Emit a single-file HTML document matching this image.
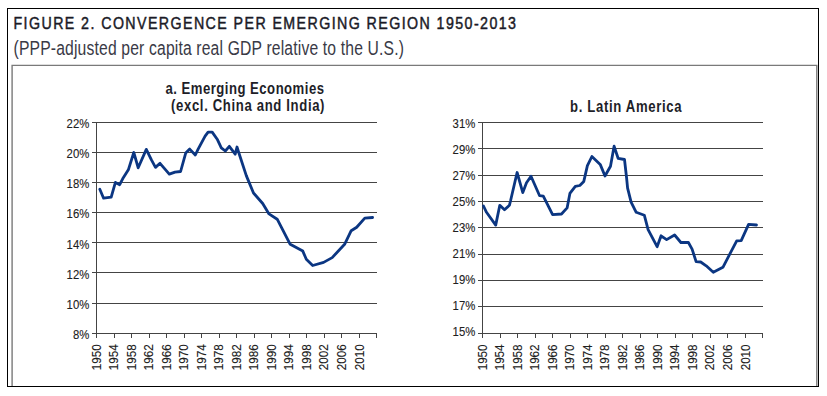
<!DOCTYPE html>
<html><head><meta charset="utf-8">
<style>
html,body{margin:0;padding:0;background:#fff;}
body{width:827px;height:396px;overflow:hidden;}
svg{display:block;}
text{font-family:"Liberation Sans",sans-serif;}
.yl{font-size:12.2px;fill:#202020;stroke:#202020;stroke-width:0.1px;}
.xl{font-size:11.2px;fill:#202020;stroke:#202020;stroke-width:0.1px;}
.ct{font-size:16px;font-weight:bold;fill:#1e1e28;}
</style></head><body>
<svg width="827" height="396" viewBox="0 0 827 396">
<rect x="0" y="0" width="827" height="396" fill="#fff"/>
<path d="M12.1,386 V65.4 H816.8 V386" fill="none" stroke="#7a7a7a" stroke-width="1.4"/>
<rect x="7.5" y="8.5" width="811" height="378" fill="none" stroke="#000" stroke-width="1"/>
<text transform="translate(13.5,28.6) scale(0.9,1)" x="0" y="0" font-size="15.8" fill="#1a1a26" stroke="#1a1a26" stroke-width="0.45" textLength="558.3" lengthAdjust="spacing">FIGURE 2. CONVERGENCE PER EMERGING REGION 1950-2013</text>
<text transform="translate(13.5,55.2) scale(0.77,1)" font-size="20.4" fill="#3a3a46" textLength="507.1" lengthAdjust="spacing">(PPP-adjusted per capita real GDP relative to the U.S.)</text>
<text transform="translate(165.5,94.4) scale(0.82,1)" class="ct" textLength="193.3" lengthAdjust="spacing">a. Emerging Economies</text>
<text transform="translate(171,111.2) scale(0.82,1)" class="ct" textLength="187.2" lengthAdjust="spacing">(excl. China and India)</text>
<text transform="translate(570,111.8) scale(0.82,1)" class="ct" textLength="136.0" lengthAdjust="spacing">b. Latin America</text>
<line x1="92.0" y1="122.3" x2="377" y2="122.3" stroke="#444444" stroke-width="1" shape-rendering="crispEdges"/>
<text transform="translate(89.3,128.1) scale(0.93,1.02)" text-anchor="end" class="yl">22%</text>
<line x1="92.0" y1="152.43" x2="377" y2="152.43" stroke="#444444" stroke-width="1" shape-rendering="crispEdges"/>
<text transform="translate(89.3,158.23) scale(0.93,1.02)" text-anchor="end" class="yl">20%</text>
<line x1="92.0" y1="182.56" x2="377" y2="182.56" stroke="#444444" stroke-width="1" shape-rendering="crispEdges"/>
<text transform="translate(89.3,188.35999999999999) scale(0.93,1.02)" text-anchor="end" class="yl">18%</text>
<line x1="92.0" y1="212.69" x2="377" y2="212.69" stroke="#444444" stroke-width="1" shape-rendering="crispEdges"/>
<text transform="translate(89.3,218.49) scale(0.93,1.02)" text-anchor="end" class="yl">16%</text>
<line x1="92.0" y1="242.82" x2="377" y2="242.82" stroke="#444444" stroke-width="1" shape-rendering="crispEdges"/>
<text transform="translate(89.3,248.62) scale(0.93,1.02)" text-anchor="end" class="yl">14%</text>
<line x1="92.0" y1="272.95" x2="377" y2="272.95" stroke="#444444" stroke-width="1" shape-rendering="crispEdges"/>
<text transform="translate(89.3,278.75) scale(0.93,1.02)" text-anchor="end" class="yl">12%</text>
<line x1="92.0" y1="303.08" x2="377" y2="303.08" stroke="#444444" stroke-width="1" shape-rendering="crispEdges"/>
<text transform="translate(89.3,308.88) scale(0.93,1.02)" text-anchor="end" class="yl">10%</text>
<line x1="92.0" y1="333.21" x2="377" y2="333.21" stroke="#444444" stroke-width="1" shape-rendering="crispEdges"/>
<text transform="translate(89.3,339.01) scale(0.93,1.02)" text-anchor="end" class="yl">8%</text>
<line x1="96.5" y1="122.3" x2="96.5" y2="333.21" stroke="#444444" stroke-width="1" shape-rendering="crispEdges"/>
<line x1="96.5" y1="333.21" x2="96.5" y2="337.71" stroke="#444444" stroke-width="1" shape-rendering="crispEdges"/>
<text transform="translate(100.7,370.21) rotate(-90) scale(1.04,1.1)" class="xl">1950</text>
<line x1="114.5" y1="333.21" x2="114.5" y2="337.71" stroke="#444444" stroke-width="1" shape-rendering="crispEdges"/>
<text transform="translate(118.22,370.21) rotate(-90) scale(1.04,1.1)" class="xl">1954</text>
<line x1="131.5" y1="333.21" x2="131.5" y2="337.71" stroke="#444444" stroke-width="1" shape-rendering="crispEdges"/>
<text transform="translate(135.73999999999998,370.21) rotate(-90) scale(1.04,1.1)" class="xl">1958</text>
<line x1="149.5" y1="333.21" x2="149.5" y2="337.71" stroke="#444444" stroke-width="1" shape-rendering="crispEdges"/>
<text transform="translate(153.26,370.21) rotate(-90) scale(1.04,1.1)" class="xl">1962</text>
<line x1="166.5" y1="333.21" x2="166.5" y2="337.71" stroke="#444444" stroke-width="1" shape-rendering="crispEdges"/>
<text transform="translate(170.77999999999997,370.21) rotate(-90) scale(1.04,1.1)" class="xl">1966</text>
<line x1="184.5" y1="333.21" x2="184.5" y2="337.71" stroke="#444444" stroke-width="1" shape-rendering="crispEdges"/>
<text transform="translate(188.29999999999998,370.21) rotate(-90) scale(1.04,1.1)" class="xl">1970</text>
<line x1="201.5" y1="333.21" x2="201.5" y2="337.71" stroke="#444444" stroke-width="1" shape-rendering="crispEdges"/>
<text transform="translate(205.82,370.21) rotate(-90) scale(1.04,1.1)" class="xl">1974</text>
<line x1="219.5" y1="333.21" x2="219.5" y2="337.71" stroke="#444444" stroke-width="1" shape-rendering="crispEdges"/>
<text transform="translate(223.33999999999997,370.21) rotate(-90) scale(1.04,1.1)" class="xl">1978</text>
<line x1="236.5" y1="333.21" x2="236.5" y2="337.71" stroke="#444444" stroke-width="1" shape-rendering="crispEdges"/>
<text transform="translate(240.85999999999999,370.21) rotate(-90) scale(1.04,1.1)" class="xl">1982</text>
<line x1="254.5" y1="333.21" x2="254.5" y2="337.71" stroke="#444444" stroke-width="1" shape-rendering="crispEdges"/>
<text transform="translate(258.38,370.21) rotate(-90) scale(1.04,1.1)" class="xl">1986</text>
<line x1="271.5" y1="333.21" x2="271.5" y2="337.71" stroke="#444444" stroke-width="1" shape-rendering="crispEdges"/>
<text transform="translate(275.9,370.21) rotate(-90) scale(1.04,1.1)" class="xl">1990</text>
<line x1="289.5" y1="333.21" x2="289.5" y2="337.71" stroke="#444444" stroke-width="1" shape-rendering="crispEdges"/>
<text transform="translate(293.42,370.21) rotate(-90) scale(1.04,1.1)" class="xl">1994</text>
<line x1="306.5" y1="333.21" x2="306.5" y2="337.71" stroke="#444444" stroke-width="1" shape-rendering="crispEdges"/>
<text transform="translate(310.94,370.21) rotate(-90) scale(1.04,1.1)" class="xl">1998</text>
<line x1="324.5" y1="333.21" x2="324.5" y2="337.71" stroke="#444444" stroke-width="1" shape-rendering="crispEdges"/>
<text transform="translate(328.46,370.21) rotate(-90) scale(1.04,1.1)" class="xl">2002</text>
<line x1="341.5" y1="333.21" x2="341.5" y2="337.71" stroke="#444444" stroke-width="1" shape-rendering="crispEdges"/>
<text transform="translate(345.97999999999996,370.21) rotate(-90) scale(1.04,1.1)" class="xl">2006</text>
<line x1="359.5" y1="333.21" x2="359.5" y2="337.71" stroke="#444444" stroke-width="1" shape-rendering="crispEdges"/>
<text transform="translate(363.5,370.21) rotate(-90) scale(1.04,1.1)" class="xl">2010</text>
<line x1="376.5" y1="333.21" x2="376.5" y2="337.71" stroke="#444444" stroke-width="1" shape-rendering="crispEdges"/>
<line x1="478.0" y1="122.3" x2="763" y2="122.3" stroke="#444444" stroke-width="1" shape-rendering="crispEdges"/>
<text transform="translate(475.3,128.1) scale(0.93,1.02)" text-anchor="end" class="yl">31%</text>
<line x1="478.0" y1="148.68" x2="763" y2="148.68" stroke="#444444" stroke-width="1" shape-rendering="crispEdges"/>
<text transform="translate(475.3,154.04) scale(0.93,1.02)" text-anchor="end" class="yl">29%</text>
<line x1="478.0" y1="175.06" x2="763" y2="175.06" stroke="#444444" stroke-width="1" shape-rendering="crispEdges"/>
<text transform="translate(475.3,179.98) scale(0.93,1.02)" text-anchor="end" class="yl">27%</text>
<line x1="478.0" y1="201.44" x2="763" y2="201.44" stroke="#444444" stroke-width="1" shape-rendering="crispEdges"/>
<text transform="translate(475.3,205.92000000000002) scale(0.93,1.02)" text-anchor="end" class="yl">25%</text>
<line x1="478.0" y1="227.82" x2="763" y2="227.82" stroke="#444444" stroke-width="1" shape-rendering="crispEdges"/>
<text transform="translate(475.3,231.86) scale(0.93,1.02)" text-anchor="end" class="yl">23%</text>
<line x1="478.0" y1="254.2" x2="763" y2="254.2" stroke="#444444" stroke-width="1" shape-rendering="crispEdges"/>
<text transform="translate(475.3,257.8) scale(0.93,1.02)" text-anchor="end" class="yl">21%</text>
<line x1="478.0" y1="280.58" x2="763" y2="280.58" stroke="#444444" stroke-width="1" shape-rendering="crispEdges"/>
<text transform="translate(475.3,283.74) scale(0.93,1.02)" text-anchor="end" class="yl">19%</text>
<line x1="478.0" y1="306.96" x2="763" y2="306.96" stroke="#444444" stroke-width="1" shape-rendering="crispEdges"/>
<text transform="translate(475.3,309.68) scale(0.93,1.02)" text-anchor="end" class="yl">17%</text>
<line x1="478.0" y1="333.34" x2="763" y2="333.34" stroke="#444444" stroke-width="1" shape-rendering="crispEdges"/>
<text transform="translate(475.3,335.62) scale(0.93,1.02)" text-anchor="end" class="yl">15%</text>
<line x1="482.5" y1="122.3" x2="482.5" y2="333.34" stroke="#444444" stroke-width="1" shape-rendering="crispEdges"/>
<line x1="482.5" y1="333.34" x2="482.5" y2="337.84" stroke="#444444" stroke-width="1" shape-rendering="crispEdges"/>
<text transform="translate(486.7,370.34) rotate(-90) scale(1.04,1.1)" class="xl">1950</text>
<line x1="500.5" y1="333.34" x2="500.5" y2="337.84" stroke="#444444" stroke-width="1" shape-rendering="crispEdges"/>
<text transform="translate(504.21999999999997,370.34) rotate(-90) scale(1.04,1.1)" class="xl">1954</text>
<line x1="517.5" y1="333.34" x2="517.5" y2="337.84" stroke="#444444" stroke-width="1" shape-rendering="crispEdges"/>
<text transform="translate(521.74,370.34) rotate(-90) scale(1.04,1.1)" class="xl">1958</text>
<line x1="535.5" y1="333.34" x2="535.5" y2="337.84" stroke="#444444" stroke-width="1" shape-rendering="crispEdges"/>
<text transform="translate(539.26,370.34) rotate(-90) scale(1.04,1.1)" class="xl">1962</text>
<line x1="552.5" y1="333.34" x2="552.5" y2="337.84" stroke="#444444" stroke-width="1" shape-rendering="crispEdges"/>
<text transform="translate(556.7800000000001,370.34) rotate(-90) scale(1.04,1.1)" class="xl">1966</text>
<line x1="570.5" y1="333.34" x2="570.5" y2="337.84" stroke="#444444" stroke-width="1" shape-rendering="crispEdges"/>
<text transform="translate(574.3000000000001,370.34) rotate(-90) scale(1.04,1.1)" class="xl">1970</text>
<line x1="587.5" y1="333.34" x2="587.5" y2="337.84" stroke="#444444" stroke-width="1" shape-rendering="crispEdges"/>
<text transform="translate(591.82,370.34) rotate(-90) scale(1.04,1.1)" class="xl">1974</text>
<line x1="605.5" y1="333.34" x2="605.5" y2="337.84" stroke="#444444" stroke-width="1" shape-rendering="crispEdges"/>
<text transform="translate(609.34,370.34) rotate(-90) scale(1.04,1.1)" class="xl">1978</text>
<line x1="622.5" y1="333.34" x2="622.5" y2="337.84" stroke="#444444" stroke-width="1" shape-rendering="crispEdges"/>
<text transform="translate(626.86,370.34) rotate(-90) scale(1.04,1.1)" class="xl">1982</text>
<line x1="640.5" y1="333.34" x2="640.5" y2="337.84" stroke="#444444" stroke-width="1" shape-rendering="crispEdges"/>
<text transform="translate(644.3800000000001,370.34) rotate(-90) scale(1.04,1.1)" class="xl">1986</text>
<line x1="657.5" y1="333.34" x2="657.5" y2="337.84" stroke="#444444" stroke-width="1" shape-rendering="crispEdges"/>
<text transform="translate(661.9000000000001,370.34) rotate(-90) scale(1.04,1.1)" class="xl">1990</text>
<line x1="675.5" y1="333.34" x2="675.5" y2="337.84" stroke="#444444" stroke-width="1" shape-rendering="crispEdges"/>
<text transform="translate(679.4200000000001,370.34) rotate(-90) scale(1.04,1.1)" class="xl">1994</text>
<line x1="692.5" y1="333.34" x2="692.5" y2="337.84" stroke="#444444" stroke-width="1" shape-rendering="crispEdges"/>
<text transform="translate(696.94,370.34) rotate(-90) scale(1.04,1.1)" class="xl">1998</text>
<line x1="710.5" y1="333.34" x2="710.5" y2="337.84" stroke="#444444" stroke-width="1" shape-rendering="crispEdges"/>
<text transform="translate(714.46,370.34) rotate(-90) scale(1.04,1.1)" class="xl">2002</text>
<line x1="727.5" y1="333.34" x2="727.5" y2="337.84" stroke="#444444" stroke-width="1" shape-rendering="crispEdges"/>
<text transform="translate(731.98,370.34) rotate(-90) scale(1.04,1.1)" class="xl">2006</text>
<line x1="745.5" y1="333.34" x2="745.5" y2="337.84" stroke="#444444" stroke-width="1" shape-rendering="crispEdges"/>
<text transform="translate(749.5,370.34) rotate(-90) scale(1.04,1.1)" class="xl">2010</text>
<line x1="762.5" y1="333.34" x2="762.5" y2="337.84" stroke="#444444" stroke-width="1" shape-rendering="crispEdges"/>
<polyline points="99.8,189.3 103.6,198.2 111.2,197.2 115.4,182.4 119.7,184.7 123.3,177.7 128.5,169.4 133.8,152.5 138.2,167.8 146.3,149.4 151.3,159.7 155.5,167.4 160.0,163.3 169.3,174.1 175.0,172.1 180.6,171.5 185.7,153.1 189.7,149.1 195.3,155.0 198.0,149.3 205.1,136.2 208.1,132.1 212.2,132.1 217.2,139.2 221.3,147.8 225.3,151.0 229.3,146.3 235.2,154.2 237.0,147.0 238.4,151.5 246.3,175.6 253.5,193.0 262.7,203.5 269.0,213.9 277.2,219.2 290.2,244.3 302.8,251.1 306.3,259.3 312.7,265.5 323.6,262.4 332.2,257.6 344.6,244.3 351.2,230.7 356.7,227.2 364.8,218.1 372.6,217.5" fill="none" stroke="#0b3682" stroke-width="2.8" stroke-linejoin="round" stroke-linecap="round"/>
<polyline points="483.5,206.0 486.5,212.3 495.7,225.1 499.8,205.3 504.5,209.8 509.4,205.3 510.5,201.0 517.1,172.5 522.8,192.6 526.5,182.8 531.0,176.2 539.6,195.7 543.3,196.2 552.6,214.7 561.5,214.0 567.1,207.9 569.9,193.4 575.3,186.4 579.8,185.5 583.8,181.4 587.4,165.6 591.9,156.5 600.2,164.4 605.0,176.0 610.5,166.2 614.1,146.2 618.1,158.3 624.5,159.5 626.6,178.0 627.6,188.1 631.1,202.2 636.2,212.3 644.3,215.2 648.1,229.7 657.1,246.7 661.1,235.8 666.6,239.6 674.6,235.0 680.9,242.5 688.4,242.5 692.1,249.1 696.1,261.7 700.7,262.0 706.2,265.8 713.3,272.3 722.9,267.3 729.5,254.7 736.7,240.9 741.2,240.7 748.6,224.4 756.5,225.0" fill="none" stroke="#0b3682" stroke-width="2.8" stroke-linejoin="round" stroke-linecap="round"/>
</svg>
</body></html>
